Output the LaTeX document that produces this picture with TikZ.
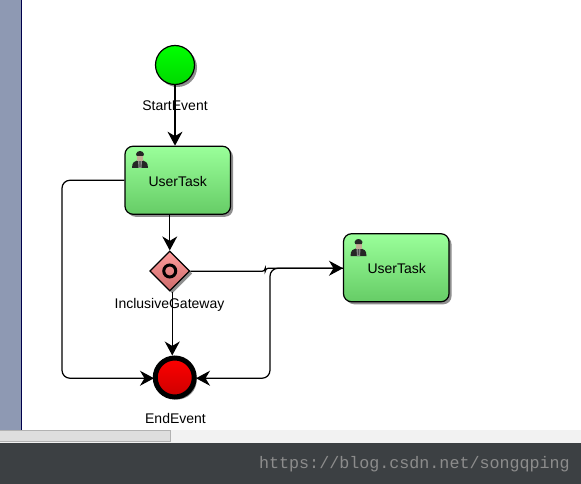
\documentclass[tikz,border=0pt]{standalone}
\usepackage{fontspec}
\setmainfont{Liberation Sans}
\newfontfamily\wmfont{Liberation Mono}
\usetikzlibrary{arrows.meta,shadows,shapes.geometric}
\definecolor{taskTop}{HTML}{9AFF9A}
\definecolor{taskBot}{HTML}{66CC66}
\definecolor{stripBlue}{HTML}{8E99B3}
\definecolor{gateTop}{HTML}{FF9C9C}
\definecolor{gateBot}{HTML}{CC6A6A}
\definecolor{band}{HTML}{3C4043}
\tikzset{
  flow/.style={draw=black,line width=1.25pt,rounded corners=8pt,-{Stealth[length=14pt,width=15pt,inset=4.5pt]}},
  shade1/.style={drop shadow={shadow xshift=2.5pt,shadow yshift=-2.5pt,fill=black!55,opacity=.8}},
  taskbox/.style={draw=black,line width=1.2pt,rounded corners=8pt,minimum width=105.5pt,minimum height=68pt,top color=taskTop,bottom color=taskBot,shade1,inner sep=0pt},
  startnode/.style={circle,draw=black,line width=1.2pt,minimum size=39pt,inner sep=0pt,top color=green,bottom color=green!85!black,shade1},
  endnode/.style={circle,draw=black,line width=5pt,minimum size=39pt,inner sep=0pt,top color=red,bottom color=red!80!black,shade1},
  gatenode/.style={diamond,draw=black,line width=1.2pt,minimum size=40pt,inner sep=0pt,top color=gateTop,bottom color=gateBot,shade1},
  lbl/.style={font=\fontsize{14}{16}\selectfont,inner sep=0pt,text=black},
  person/.pic={
    \fill[black!85] (-8,9) .. controls (-8,3) and (-5,2) .. (-3,1.5) -- (3,1.5) .. controls (5,2) and (8,3) .. (8,9) -- cycle;
    \fill[black!45] (-2,1.5) -- (2,1.5) -- (1.5,9) -- (-1.5,9) -- cycle;
    \fill[black!70] (-.7,2) -- (.7,2) -- (.5,8) -- (-.5,8) -- cycle;
    \fill[black!30!brown!50!white] (-3,-4) rectangle (3,2);
    \fill[black!85] (-4,-5) .. controls (-3,-9) and (3,-9) .. (4,-5) -- (3.2,-3) -- (-3.2,-3) -- cycle;
  }
}
\begin{document}
\begin{tikzpicture}[x=1pt,y=-1pt]
\useasboundingbox (0,0) rectangle (581,484);
\fill[white] (0,0) rectangle (581,484);
% window chrome
\fill[stripBlue] (0,0) rectangle (21,430);
\draw[draw=black!70!blue,line width=1.2pt] (21.5,0) -- (21.5,430);
\fill[fill=black!5] (0,430) rectangle (581,443);
\draw[fill=black!13,draw=black!30] (-1,430.5) rectangle (170.5,441.5);
\fill[band] (0,443) rectangle (581,484);

% nodes
\node[startnode] (start) at (175,65) {};
\node[taskbox] (t1) at (177.75,180.25) {};
\node[taskbox] (t2) at (396.25,267.75) {};
\node[gatenode] (gw) at (169.75,271) {};
\node[endnode] (end) at (174.75,377.5) {};
\node[circle,draw=black,line width=3pt,minimum size=12pt,inner sep=0pt] (gwmark) at (169.75,271) {};

\node[lbl] (slabel) at (175,106) {StartEvent};
\node[lbl] (t1label) at (177.75,181.5) {UserTask};
\node[lbl] (t2label) at (396.75,268.5) {UserTask};
\node[lbl] (glabel) at (169.5,305) {InclusiveGateway};
\node[lbl] (elabel) at (175.5,418.75) {EndEvent};

\pic at (140,159) {person};
\pic at (358.5,247) {person};

\node[inner sep=0pt,anchor=east,text=black!45!white,font=\wmfont\fontsize{16.7}{18}\selectfont] (wm) at (570,464) {https://blog.csdn.net/songqping};

% connector waypoints
\coordinate (a1) at (62,180.25);
\coordinate (a2) at (62,378.25);
\coordinate (a3) at (154,378.25);
\coordinate (b1) at (265.25,271.25);
\coordinate (b2) at (265.25,268.25);
\coordinate (c1) at (270,268.25);
\coordinate (c2) at (270,378.25);
\coordinate (c3) at (196,378.25);
\coordinate (d1) at (343,268.25);

% connectors
\draw[flow] (start.south) -- (start.south |- t1.north);
\draw[flow] (gw.north |- t1.south) -- (gw.north);
\draw[flow] (t1.west) -- (a1) -- (a2) -- (a3);
\draw[flow] ([xshift=2.5pt]gw.south) -- ([xshift=-2.5pt]end.north);
\draw[flow,rounded corners=3pt] (gw.east |- b1) -- (b1) -- (b2) -- (d1);
\draw[flow] (d1) -- (c1) -- (c2) -- (c3);
\end{tikzpicture}
\end{document}
